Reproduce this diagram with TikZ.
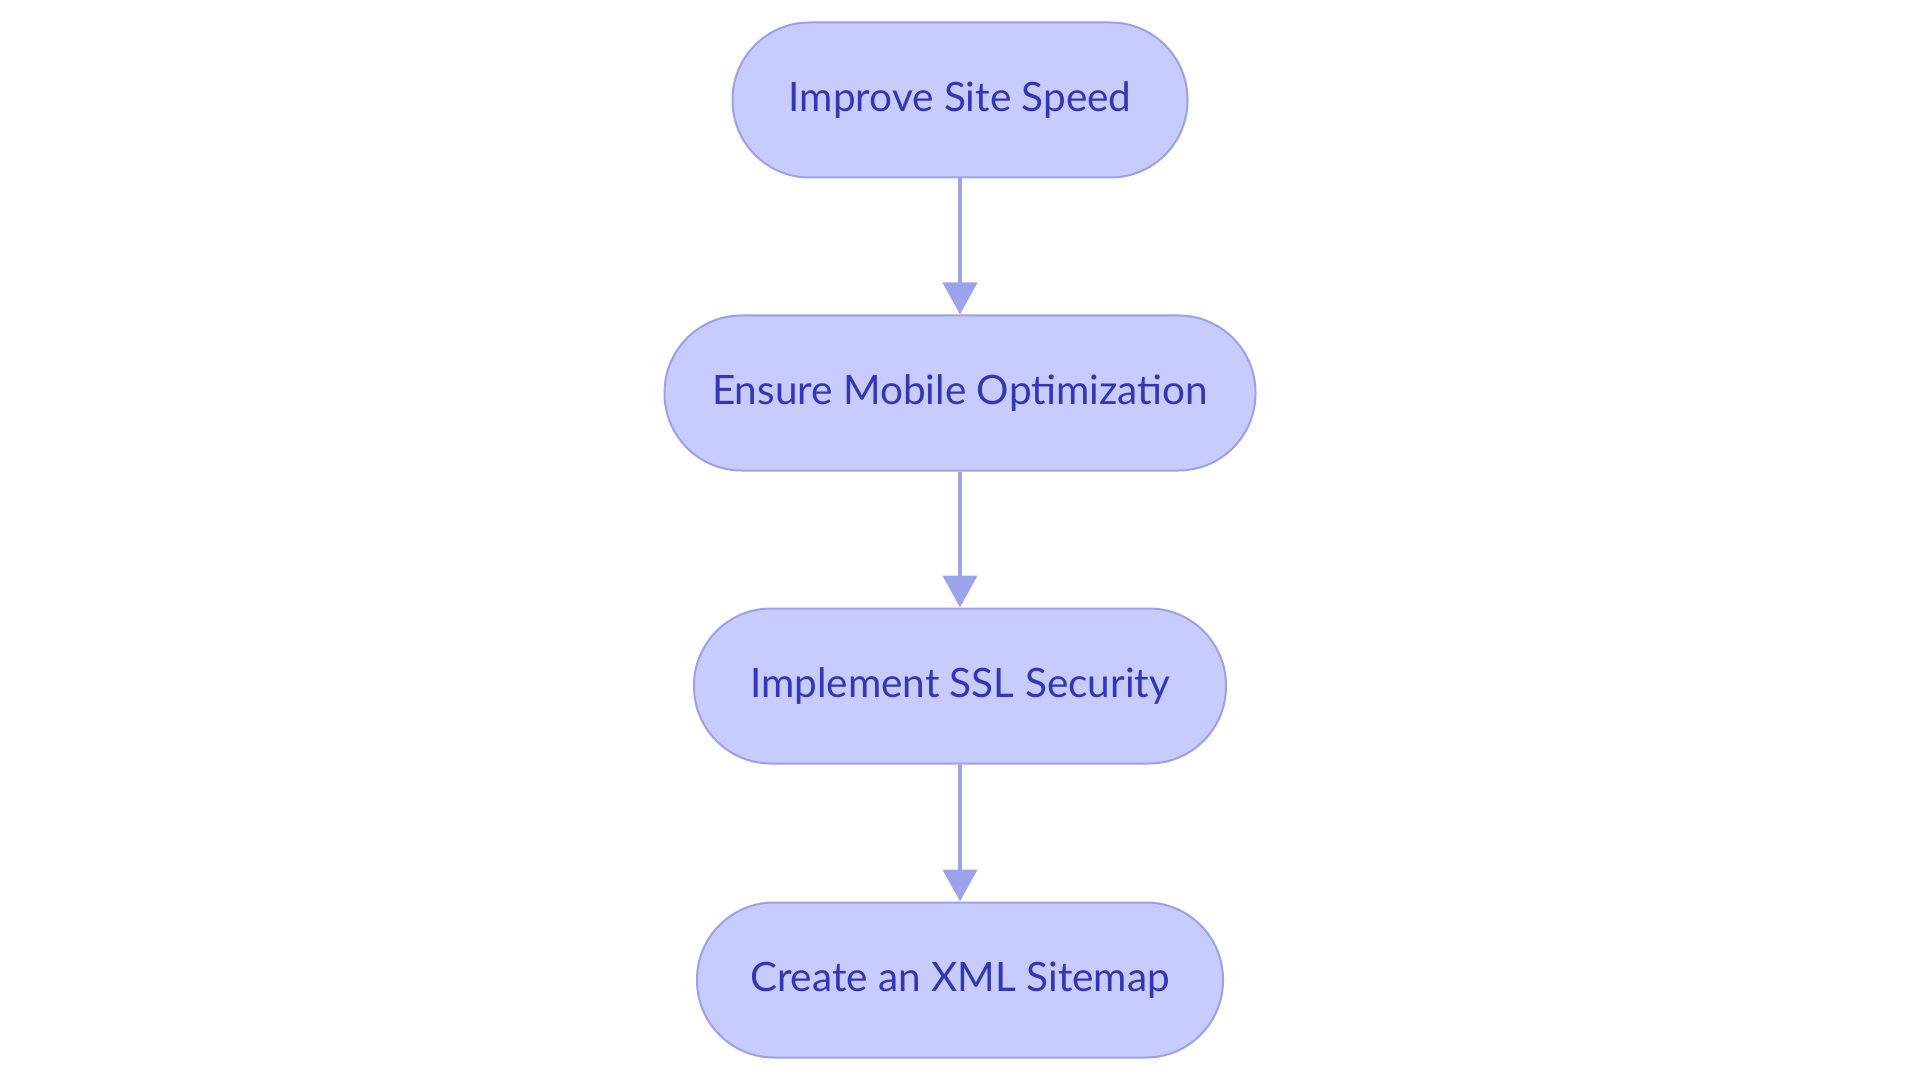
\documentclass[tikz,border=0pt]{standalone}
\usepackage{fontspec}
\setmainfont{Lato}
\usetikzlibrary{arrows.meta}
\definecolor{boxfill}{HTML}{C8CBFE}
\definecolor{boxline}{HTML}{9CA0E8}
\definecolor{txt}{HTML}{3535B8}
\definecolor{arr}{HTML}{9CA3EC}
\begin{document}
\begin{tikzpicture}[x=1pt,y=1pt,
  pill/.style={draw=boxline, fill=boxfill, line width=2pt, rounded corners=77pt,
    minimum height=155pt, text=txt, font=\fontsize{40.5}{48}\selectfont, inner sep=0pt},
  conn/.style={draw=arr, line width=4.5pt, -{Triangle[length=32pt,width=34pt]}}]
\path[use as bounding box] (0,0) rectangle (1920,-1083);
\node[pill, minimum width=455pt] (n1) at (960,-100) {Improve Site Speed};
\node[pill, minimum width=591pt] (n2) at (960,-393) {Ensure Mobile Optimization};
\node[pill, minimum width=532pt] (n3) at (960,-686) {Implement SSL Security};
\node[pill, minimum width=526pt] (n4) at (960,-980) {Create an XML Sitemap};
\draw[conn] (n1) -- (n2);
\draw[conn] (n2) -- (n3);
\draw[conn] (n3) -- (n4);
\end{tikzpicture}
\end{document}
